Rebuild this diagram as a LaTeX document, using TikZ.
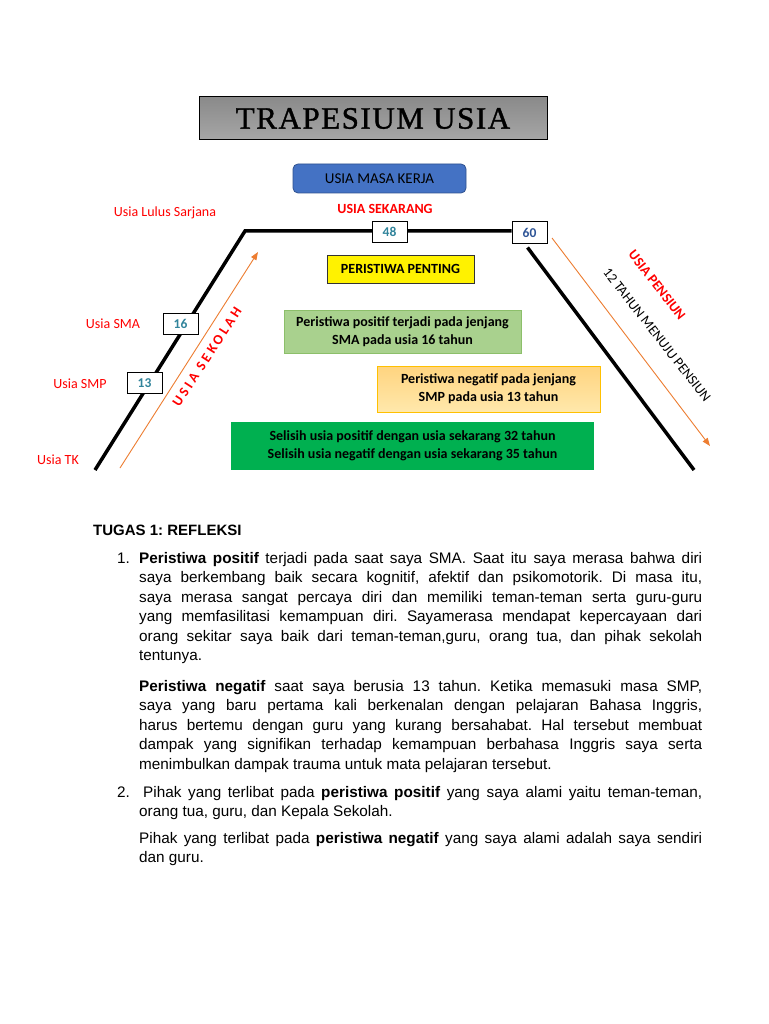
\documentclass[tikz,border=0pt]{standalone}
\usepackage{fontspec}
\setmainfont{Liberation Sans}
\newfontfamily\calfont{Carlito}
\newfontfamily\titlefont[LetterSpace=5,FakeBold=1.2]{Liberation Serif}
\newfontfamily\spacedcal[LetterSpace=22]{Carlito}
\usetikzlibrary{arrows.meta}
\definecolor{redtxt}{HTML}{FF0000}
\definecolor{tealnum}{HTML}{31849B}
\definecolor{bluenum}{HTML}{2F5597}
\definecolor{boxblue}{HTML}{4472C4}
\definecolor{boxblueline}{HTML}{2F528F}
\definecolor{arroworange}{HTML}{ED7D31}
\definecolor{lightgreen}{HTML}{A9D18E}
\definecolor{lightgreenline}{HTML}{8CBF6A}
\definecolor{orangetop}{HTML}{FFD47F}
\definecolor{orangebot}{HTML}{FFE8AC}
\definecolor{orangeline}{HTML}{FFC000}
\definecolor{darkgreen}{HTML}{00B050}
\definecolor{titletop}{HTML}{8A8A8A}
\definecolor{titlebot}{HTML}{A6A6A6}
\tikzset{
  numbox/.style={draw=black, fill=white, line width=1pt, minimum width=35, minimum height=21, inner sep=0,
    font=\calfont\bfseries\fontsize{13.5}{15}\selectfont},
  redlbl/.style={text=redtxt, inner sep=0, font=\calfont\fontsize{14}{16}\selectfont},
  trap/.style={line width=3.5pt, black},
  orarrow/.style={arroworange, line width=0.9pt, -{Triangle[length=8pt,width=6pt]}},
  evbox/.style={inner sep=0, align=center, font=\calfont\bfseries\fontsize{14}{18}\selectfont},
  para/.style={anchor=base west, inner sep=0, text width=563, align=justify, font=\fontsize{15.3}{19.5}\selectfont\frenchspacing},
  itemnum/.style={anchor=base west, inner sep=0, font=\fontsize{15.3}{19.5}\selectfont}
}
\begin{document}
\begin{tikzpicture}[x=1pt,y=-1pt]
\useasboundingbox (0,0) rectangle (768,1024);
\fill[white] (0,0) rectangle (768,1024);
% title
\node[draw=black, line width=1pt, top color=titletop, bottom color=titlebot, minimum width=348, minimum height=43, inner sep=0,
  font=\titlefont\fontsize{31}{36}\selectfont] (title) at (373,118.5) {TRAPESIUM USIA};
% masa kerja
\node[draw=boxblueline, fill=boxblue, rounded corners=5pt, line width=0.8pt, minimum width=173, minimum height=29, inner sep=0,
  font=\calfont\fontsize{15}{17}\selectfont] (kerja) at (379.5,178.5) {USIA MASA KERJA};
% labels
\node[redlbl] (sarjana) at (165,213) {Usia Lulus Sarjana};
\node[redlbl, font=\calfont\bfseries\fontsize{14}{16}\selectfont] (sekarang) at (385,209) {USIA SEKARANG};
\node[redlbl] (sma) at (113,324) {Usia SMA};
\node[redlbl] (smp) at (80,384) {Usia SMP};
\node[redlbl] (tk) at (58,460) {Usia TK};
% trapezium lines
\coordinate (tkend) at (95,470);
\coordinate (lulus) at (245,231);
\coordinate (pensiunend) at (694,470);
\node[numbox, text=bluenum] (b60) at (529.5,232.5) {60};
\draw[trap] (tkend) -- (lulus) -- (lulus -| b60.west);
\draw[trap] (b60.south) ++(-2,4) coordinate (rtop) (rtop) -- (pensiunend);
\node[numbox, text=tealnum] (b48) at (389.5,232) {48};
\node[numbox, text=tealnum] (b16) at (180.5,323.5) {16};
\node[numbox, text=tealnum] (b13) at (144.5,383) {13};
% orange arrows
\coordinate (la1) at (120,468);
\coordinate (la2) at (258,252);
\coordinate (ra1) at (552,238);
\coordinate (ra2) at (710,446);
\draw[orarrow] (la1) -- (la2);
\draw[orarrow] (ra1) -- (ra2);
% rotated labels
\node[inner sep=0, text=redtxt, rotate=57, font=\spacedcal\bfseries\fontsize{14}{16}\selectfont] (sekolah) at (207,357) {USIA SEKOLAH};
\node[inner sep=0, text=redtxt, rotate=-52, font=\calfont\bfseries\fontsize{14}{16}\selectfont] (pensiun) at (657,285) {USIA PENSIUN};
\node[inner sep=0, rotate=-52, font=\calfont\fontsize{14}{16}\selectfont] (menuju) at (657,335) {12 TAHUN MENUJU PENSIUN};
% event boxes
\node[evbox, draw=black!80, line width=0.8pt, fill=yellow, minimum width=147, minimum height=28] (penting) at (400.5,269) {PERISTIWA PENTING};
\node[evbox, draw=lightgreenline, line width=0.8pt, fill=lightgreen, minimum width=237, minimum height=43] (positif) at (402.5,331.5)
  {Peristiwa positif terjadi pada jenjang\\SMA pada usia 16 tahun};
\node[evbox, draw=orangeline, line width=0.8pt, top color=orangetop, bottom color=orangebot, minimum width=223, minimum height=46] (negatif) at (488.5,389)
  {Peristiwa negatif pada jenjang\\SMP pada usia 13 tahun};
\node[evbox, fill=darkgreen, minimum width=363, minimum height=48] (selisih) at (412.5,446)
  {Selisih usia positif dengan usia sekarang 32 tahun\\Selisih usia negatif dengan usia sekarang 35 tahun};
% text section
\node[anchor=base west, inner sep=0, font=\bfseries\fontsize{15}{19.5}\selectfont\frenchspacing] (tugas) at (93,535) {TUGAS 1: REFLEKSI};
\node[itemnum] (n1) at (117,563) {1.};
\node[para] (p1) at (139,563) {\textbf{Peristiwa positif} terjadi pada saat saya SMA. Saat itu saya merasa bahwa diri\linebreak
saya berkembang baik secara kognitif, afektif dan psikomotorik. Di masa itu,\linebreak
saya merasa sangat percaya diri dan memiliki teman-teman serta guru-guru\linebreak
yang memfasilitasi kemampuan diri. Sayamerasa mendapat kepercayaan dari\linebreak
orang sekitar saya baik dari teman-teman,guru, orang tua, dan pihak sekolah\linebreak
tentunya.};
\node[para] (p2) at (139,691) {\textbf{Peristiwa negatif} saat saya berusia 13 tahun. Ketika memasuki masa SMP,\linebreak
saya yang baru pertama kali berkenalan dengan pelajaran Bahasa Inggris,\linebreak
harus bertemu dengan guru yang kurang bersahabat. Hal tersebut membuat\linebreak
dampak yang signifikan terhadap kemampuan berbahasa Inggris saya serta\linebreak
menimbulkan dampak trauma untuk mata pelajaran tersebut.};
\node[itemnum] (n2) at (117,797) {2.};
\node[para] (p3) at (139,797) {\hspace*{4pt}Pihak yang terlibat pada \textbf{peristiwa positif} yang saya alami yaitu teman-teman,\linebreak
orang tua, guru, dan Kepala Sekolah.};
\node[para] (p4) at (139,843) {Pihak yang terlibat pada \textbf{peristiwa negatif} yang saya alami adalah saya sendiri\linebreak
dan guru.};
\end{tikzpicture}
\end{document}
